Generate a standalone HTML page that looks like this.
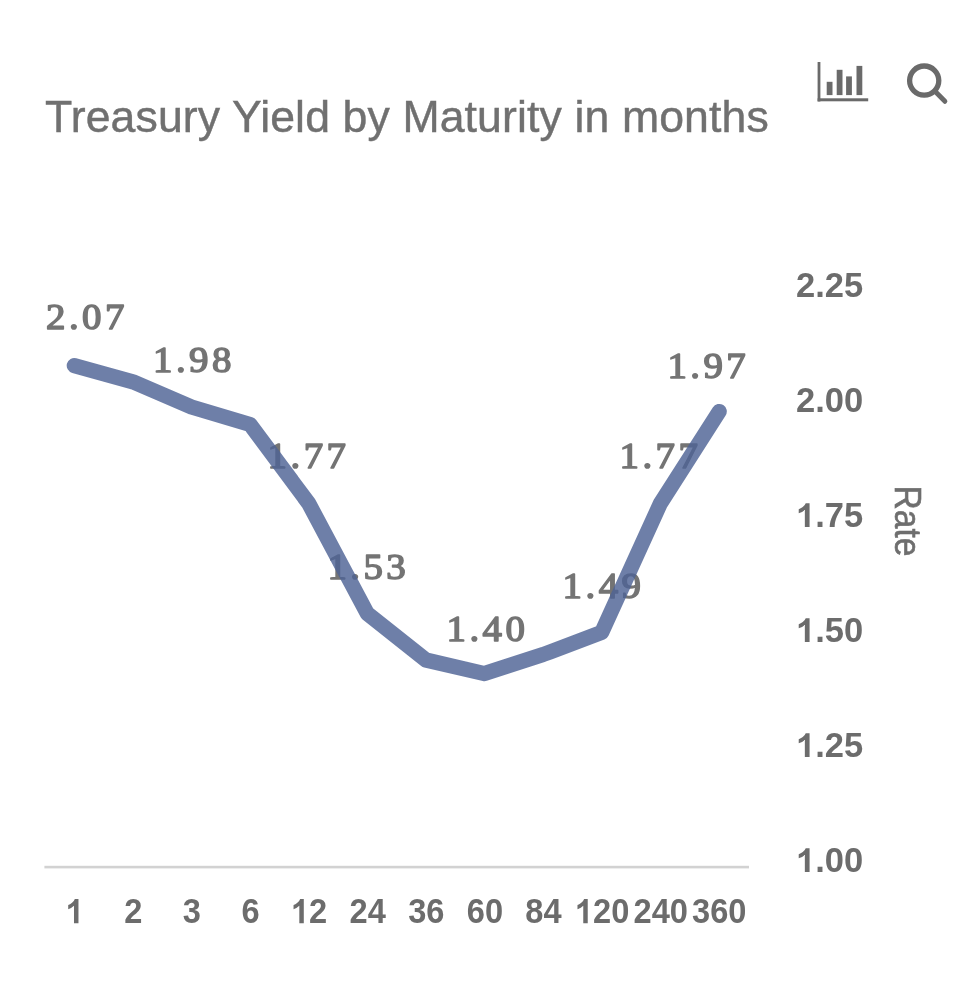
<!DOCTYPE html>
<html>
<head>
<meta charset="utf-8">
<title>Treasury Yield by Maturity in months</title>
<style>
  html, body { margin: 0; padding: 0; background: #ffffff; }
  body { width: 959px; height: 1007px; overflow: hidden; font-family: "Liberation Sans", sans-serif; }
  svg { display: block; }
  #content { filter: blur(0.6px); }
  .title { font-family: "Liberation Sans", sans-serif; font-size: 44.6px; fill: #707070; stroke: #707070; stroke-width: 0.45px; letter-spacing: 0.12px; }
  .ylab  { font-family: "Liberation Sans", sans-serif; font-size: 34.5px; font-weight: bold; fill: #6c6c6c; }
  .xlab  { font-family: "Liberation Sans", sans-serif; font-size: 34.5px; font-weight: bold; fill: #6c6c6c; text-anchor: middle; }
  .xlabs { font-family: "Liberation Sans", sans-serif; font-size: 34.5px; font-weight: bold; fill: #6c6c6c; text-anchor: start; }
  .dlab  { font-family: "Liberation Serif", serif; font-size: 36px; font-weight: normal; fill: #747474; stroke: #747474; stroke-width: 1.5px; stroke-linejoin: round; letter-spacing: 3.2px; }
  .ytitle{ font-family: "Liberation Sans", sans-serif; font-size: 34px; fill: #6e6e6e; stroke: #6e6e6e; stroke-width: 0.6px; }
  .one   { fill: #6c6c6c; }
</style>
</head>
<body>
<svg width="959" height="1007" viewBox="0 0 959 1007">
  <rect x="0" y="0" width="959" height="1007" fill="#ffffff"/>

  <g id="content">
  <!-- title -->
  <text class="title" x="45" y="131.5">Treasury Yield by Maturity in months</text>

  <!-- toolbar icons -->
  <g id="icon-chart" fill="#6a6a6a" stroke="none">
    <rect x="817.6" y="62" width="2.8" height="39.5"/>
    <rect x="817.6" y="98.3" width="50.6" height="3"/>
    <rect x="826.7" y="81.8" width="5.8" height="13.3"/>
    <rect x="836.7" y="69.8" width="5.8" height="25.3"/>
    <rect x="846.1" y="76.4" width="5.8" height="18.7"/>
    <rect x="856.5" y="65.9" width="5.8" height="29.2"/>
  </g>
  <g id="icon-search" fill="none" stroke="#6a6a6a" stroke-linecap="round">
    <circle cx="924.2" cy="80.6" r="14.6" stroke-width="5.3"/>
    <line x1="935" y1="91.3" x2="944.9" y2="101.3" stroke-width="4.9"/>
  </g>

  <!-- x axis line -->
  <rect x="44.4" y="865.8" width="704.6" height="2.6" fill="#d2d2d2"/>

  <!-- data labels (under the line) -->
  <g class="dlab">
    <text transform="translate(46,329.3) scale(1.08,1)">2.07</text>
    <text transform="translate(153,372.3) scale(1.08,1)">1.98</text>
    <text transform="translate(267.6,467.8) scale(1.08,1)">1.77</text>
    <text transform="translate(327.4,579.2) scale(1.08,1)">1.53</text>
    <text transform="translate(446.5,641) scale(1.08,1)">1.40</text>
    <text transform="translate(562.6,598.3) scale(1.08,1)">1.49</text>
    <text transform="translate(619.5,467.8) scale(1.08,1)">1.77</text>
    <text transform="translate(667.4,378.3) scale(1.08,1)">1.97</text>
  </g>

  <!-- series line -->
  <polyline fill="none" stroke="#4e6395" stroke-opacity="0.82" stroke-width="15.2" stroke-linecap="round" stroke-linejoin="round"
    points="74.3,365.6 132.9,381.8 191.5,407 250.1,424.5 308.7,503.4 367.3,613.5 425.9,660 484.5,673.6 543.1,654.5 601.7,632.4 660.3,503.6 719.2,411.5"/>

  <!-- y axis labels -->
  <g class="ylab">
    <text x="796" y="297">2.25</text>
    <text x="796" y="412">2.00</text>
    <path class="one" d="M806 0H525V1059Q371 915 162 846V1101Q272 1137 401 1237.5Q530 1338 578 1472H806Z" transform="translate(796,527) scale(0.016846,-0.016125)"/>
    <text x="815.19" y="527">.75</text>
    <path class="one" d="M806 0H525V1059Q371 915 162 846V1101Q272 1137 401 1237.5Q530 1338 578 1472H806Z" transform="translate(796,642) scale(0.016846,-0.016125)"/>
    <text x="815.19" y="642">.50</text>
    <path class="one" d="M806 0H525V1059Q371 915 162 846V1101Q272 1137 401 1237.5Q530 1338 578 1472H806Z" transform="translate(796,757) scale(0.016846,-0.016125)"/>
    <text x="815.19" y="757">.25</text>
    <path class="one" d="M806 0H525V1059Q371 915 162 846V1101Q272 1137 401 1237.5Q530 1338 578 1472H806Z" transform="translate(796,872) scale(0.016846,-0.016125)"/>
    <text x="815.19" y="872">.00</text>
  </g>

  <!-- y axis title -->
  <text class="ytitle" transform="translate(894.6,485.6) rotate(90) scale(0.985,1.08)">Rate</text>

  <!-- x axis labels -->
  <g>
    <g transform="translate(74.7,923.2) scale(0.945,1.02)"><path class="one" d="M806 0H525V1059Q371 915 162 846V1101Q272 1137 401 1237.5Q530 1338 578 1472H806Z" transform="translate(-9.59,0) scale(0.016846,-0.016125)"/></g>
    <g transform="translate(133.3,923.2) scale(0.945,1.02)"><text class="xlab" x="0" y="0">2</text></g>
    <g transform="translate(191.9,923.2) scale(0.945,1.02)"><text class="xlab" x="0" y="0">3</text></g>
    <g transform="translate(250.5,923.2) scale(0.945,1.02)"><text class="xlab" x="0" y="0">6</text></g>
    <g transform="translate(309.1,923.2) scale(0.945,1.02)"><path class="one" d="M806 0H525V1059Q371 915 162 846V1101Q272 1137 401 1237.5Q530 1338 578 1472H806Z" transform="translate(-19.19,0) scale(0.016846,-0.016125)"/><text class="xlabs" x="0.00" y="0">2</text></g>
    <g transform="translate(367.7,923.2) scale(0.945,1.02)"><text class="xlab" x="0" y="0">24</text></g>
    <g transform="translate(426.3,923.2) scale(0.945,1.02)"><text class="xlab" x="0" y="0">36</text></g>
    <g transform="translate(484.9,923.2) scale(0.945,1.02)"><text class="xlab" x="0" y="0">60</text></g>
    <g transform="translate(543.5,923.2) scale(0.945,1.02)"><text class="xlab" x="0" y="0">84</text></g>
    <g transform="translate(602.1,923.2) scale(0.945,1.02)"><path class="one" d="M806 0H525V1059Q371 915 162 846V1101Q272 1137 401 1237.5Q530 1338 578 1472H806Z" transform="translate(-28.78,0) scale(0.016846,-0.016125)"/><text class="xlabs" x="-9.59" y="0">20</text></g>
    <g transform="translate(660.7,923.2) scale(0.945,1.02)"><text class="xlab" x="0" y="0">240</text></g>
    <g transform="translate(719.3,923.2) scale(0.945,1.02)"><text class="xlab" x="0" y="0">360</text></g>
  </g>
  </g>
</svg>
</body>
</html>
